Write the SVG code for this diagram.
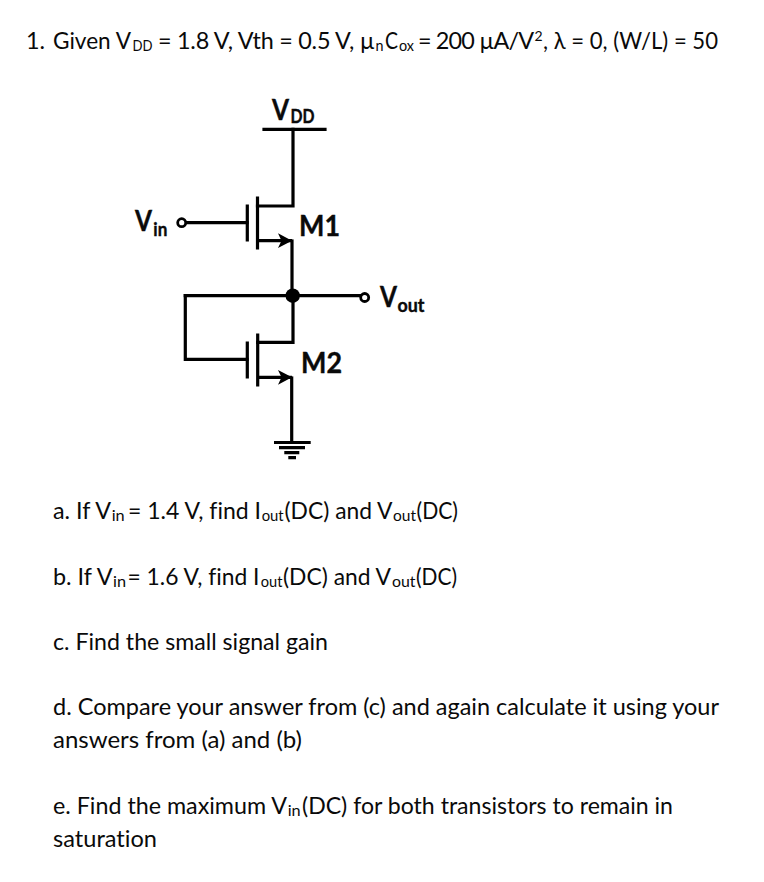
<svg xmlns="http://www.w3.org/2000/svg" width="764" height="882" viewBox="0 0 764 882">
<defs>
<marker id="arrow" markerUnits="userSpaceOnUse" markerWidth="16" markerHeight="16" refX="14" refY="8" orient="auto"><path d="M0,0.6 L14,8 L0,15.4 L3.5,8 Z" fill="#000"/></marker>
</defs>
<style>
.w{fill:none;stroke:#000;stroke-width:3.2;stroke-linecap:square}
.t{font-family:"Lato","Carlito","Liberation Sans",sans-serif;font-size:23.4px;fill:#0a0a0a;font-variant-ligatures:none}
.l{font-family:"Lato","Carlito","Liberation Sans",sans-serif;font-weight:700;font-size:28px;fill:#0a0a0a;stroke:#0a0a0a;stroke-width:.4}
.s{font-size:15px}
.ls{font-size:19px}
.p{fill:#fff;stroke:#000;stroke-width:2.8}
</style>
<rect width="764" height="882" fill="#fff"/>
<g id="question">
<text class="t" x="26" y="49">1.</text>
<text class="t" x="53" y="49" textLength="78" lengthAdjust="spacingAndGlyphs">Given V</text>
<text class="t s" x="132.5" y="51" textLength="20" lengthAdjust="spacingAndGlyphs">DD</text>
<text class="t" x="158" y="49" style="letter-spacing:-.25px">= 1.8 V, Vth = 0.5 V, µ</text>
<text class="t s" x="375.5" y="51" textLength="8" lengthAdjust="spacingAndGlyphs">n</text>
<text class="t" x="385" y="49" textLength="13" lengthAdjust="spacingAndGlyphs">C</text>
<text class="t s" x="399" y="51" textLength="15" lengthAdjust="spacingAndGlyphs">ox</text>
<text class="t" x="418" y="49" style="letter-spacing:-.85px">= 200 µA/V</text>
<text class="t s" x="534.5" y="41" style="font-size:14px">2</text>
<text class="t" x="543" y="49" textLength="175" lengthAdjust="spacingAndGlyphs">, λ = 0, (W/L) = 50</text>
</g>
<g id="connectors">
<path class="w" d="M264 129.3H325"/>
<path class="w" d="M293 129.3V206H257.5"/>
<path class="w" d="M187 222.7H247"/>
<path class="w" style="stroke-linecap:butt" d="M257.5 240.7H292" marker-end="url(#arrow)"/>
<path class="w" d="M292 241V295.7"/>
<path class="w" d="M185.3 295.7H360"/>
<path class="w" d="M293 295.7V342.3H257.7"/>
<path class="w" d="M247 359.3H185.3V295.7"/>
<path class="w" style="stroke-linecap:butt" d="M257.7 377.3H292" marker-end="url(#arrow)"/>
<path class="w" d="M291.7 378V442"/>
</g>
<g id="M1">
<path class="w" d="M257.5 198V248M247.3 206V240"/>
<text class="l" x="299" y="236" textLength="41" lengthAdjust="spacingAndGlyphs">M1</text>
</g>
<g id="M2">
<path class="w" d="M257.7 335V385M247.3 343V377"/>
<text class="l" x="301" y="373" textLength="41" lengthAdjust="spacingAndGlyphs">M2</text>
</g>
<g id="vdd">
<text class="l" x="272" y="120" textLength="17" lengthAdjust="spacingAndGlyphs">V</text>
<text class="l ls" x="290.5" y="123" textLength="24" lengthAdjust="spacingAndGlyphs">DD</text>
</g>
<g id="vin">
<circle class="p" cx="181.7" cy="222.7" r="4"/>
<text class="l" x="135" y="231" textLength="17" lengthAdjust="spacingAndGlyphs">V</text>
<text class="l ls" x="153.3" y="236" textLength="14" lengthAdjust="spacingAndGlyphs">in</text>
</g>
<g id="vout">
<circle class="p" cx="364.7" cy="297.5" r="4"/>
<text class="l" x="380" y="307" textLength="17" lengthAdjust="spacingAndGlyphs">V</text>
<text class="l ls" x="397.5" y="312" textLength="27" lengthAdjust="spacingAndGlyphs">out</text>
</g>
<g id="junction"><circle cx="292.7" cy="295.7" r="7.2" fill="#000"/></g>
<g id="ground">
<path class="w" style="stroke-linecap:butt" d="M274 442.5H310.7M279 447.7H305M284.3 452.7H299.3M288.3 457.7H296"/>
</g>
<g id="questions">
<text class="t" x="53" y="519" textLength="58" lengthAdjust="spacingAndGlyphs">a. If V</text>
<text class="t s" x="111.7" y="521" textLength="13" lengthAdjust="spacingAndGlyphs">in</text>
<text class="t" x="128" y="519" textLength="133" lengthAdjust="spacingAndGlyphs">= 1.4 V, find I</text>
<text class="t s" x="261.7" y="521" textLength="22" lengthAdjust="spacingAndGlyphs">out</text>
<text class="t" x="284.5" y="519" textLength="108" lengthAdjust="spacingAndGlyphs">(DC) and V</text>
<text class="t s" x="393" y="521" textLength="23" lengthAdjust="spacingAndGlyphs">out</text>
<text class="t" x="416.5" y="519" textLength="41.5" lengthAdjust="spacingAndGlyphs">(DC)</text>
<text class="t" x="53" y="585" textLength="59.5" lengthAdjust="spacingAndGlyphs">b. If V</text>
<text class="t s" x="113" y="587" textLength="13" lengthAdjust="spacingAndGlyphs">in</text>
<text class="t" x="127.5" y="585" textLength="132" lengthAdjust="spacingAndGlyphs">= 1.6 V, find I</text>
<text class="t s" x="260.8" y="587" textLength="21.7" lengthAdjust="spacingAndGlyphs">out</text>
<text class="t" x="283" y="585" textLength="108" lengthAdjust="spacingAndGlyphs">(DC) and V</text>
<text class="t s" x="392" y="587" textLength="23.5" lengthAdjust="spacingAndGlyphs">out</text>
<text class="t" x="416" y="585" textLength="41" lengthAdjust="spacingAndGlyphs">(DC)</text>
<text class="t" x="53" y="650" textLength="275" lengthAdjust="spacingAndGlyphs">c. Find the small signal gain</text>
<text class="t" x="53" y="715" textLength="666" lengthAdjust="spacingAndGlyphs">d. Compare your answer from (c) and again calculate it using your</text>
<text class="t" x="53" y="748" textLength="249" lengthAdjust="spacingAndGlyphs">answers from (a) and (b)</text>
<text class="t" x="53" y="814" textLength="234" lengthAdjust="spacingAndGlyphs">e. Find the maximum V</text>
<text class="t s" x="287.7" y="816" textLength="13" lengthAdjust="spacingAndGlyphs">in</text>
<text class="t" x="302" y="814" textLength="371" lengthAdjust="spacingAndGlyphs">(DC) for both transistors to remain in</text>
<text class="t" x="53" y="847" textLength="104" lengthAdjust="spacingAndGlyphs">saturation</text>
</g>
</svg>
